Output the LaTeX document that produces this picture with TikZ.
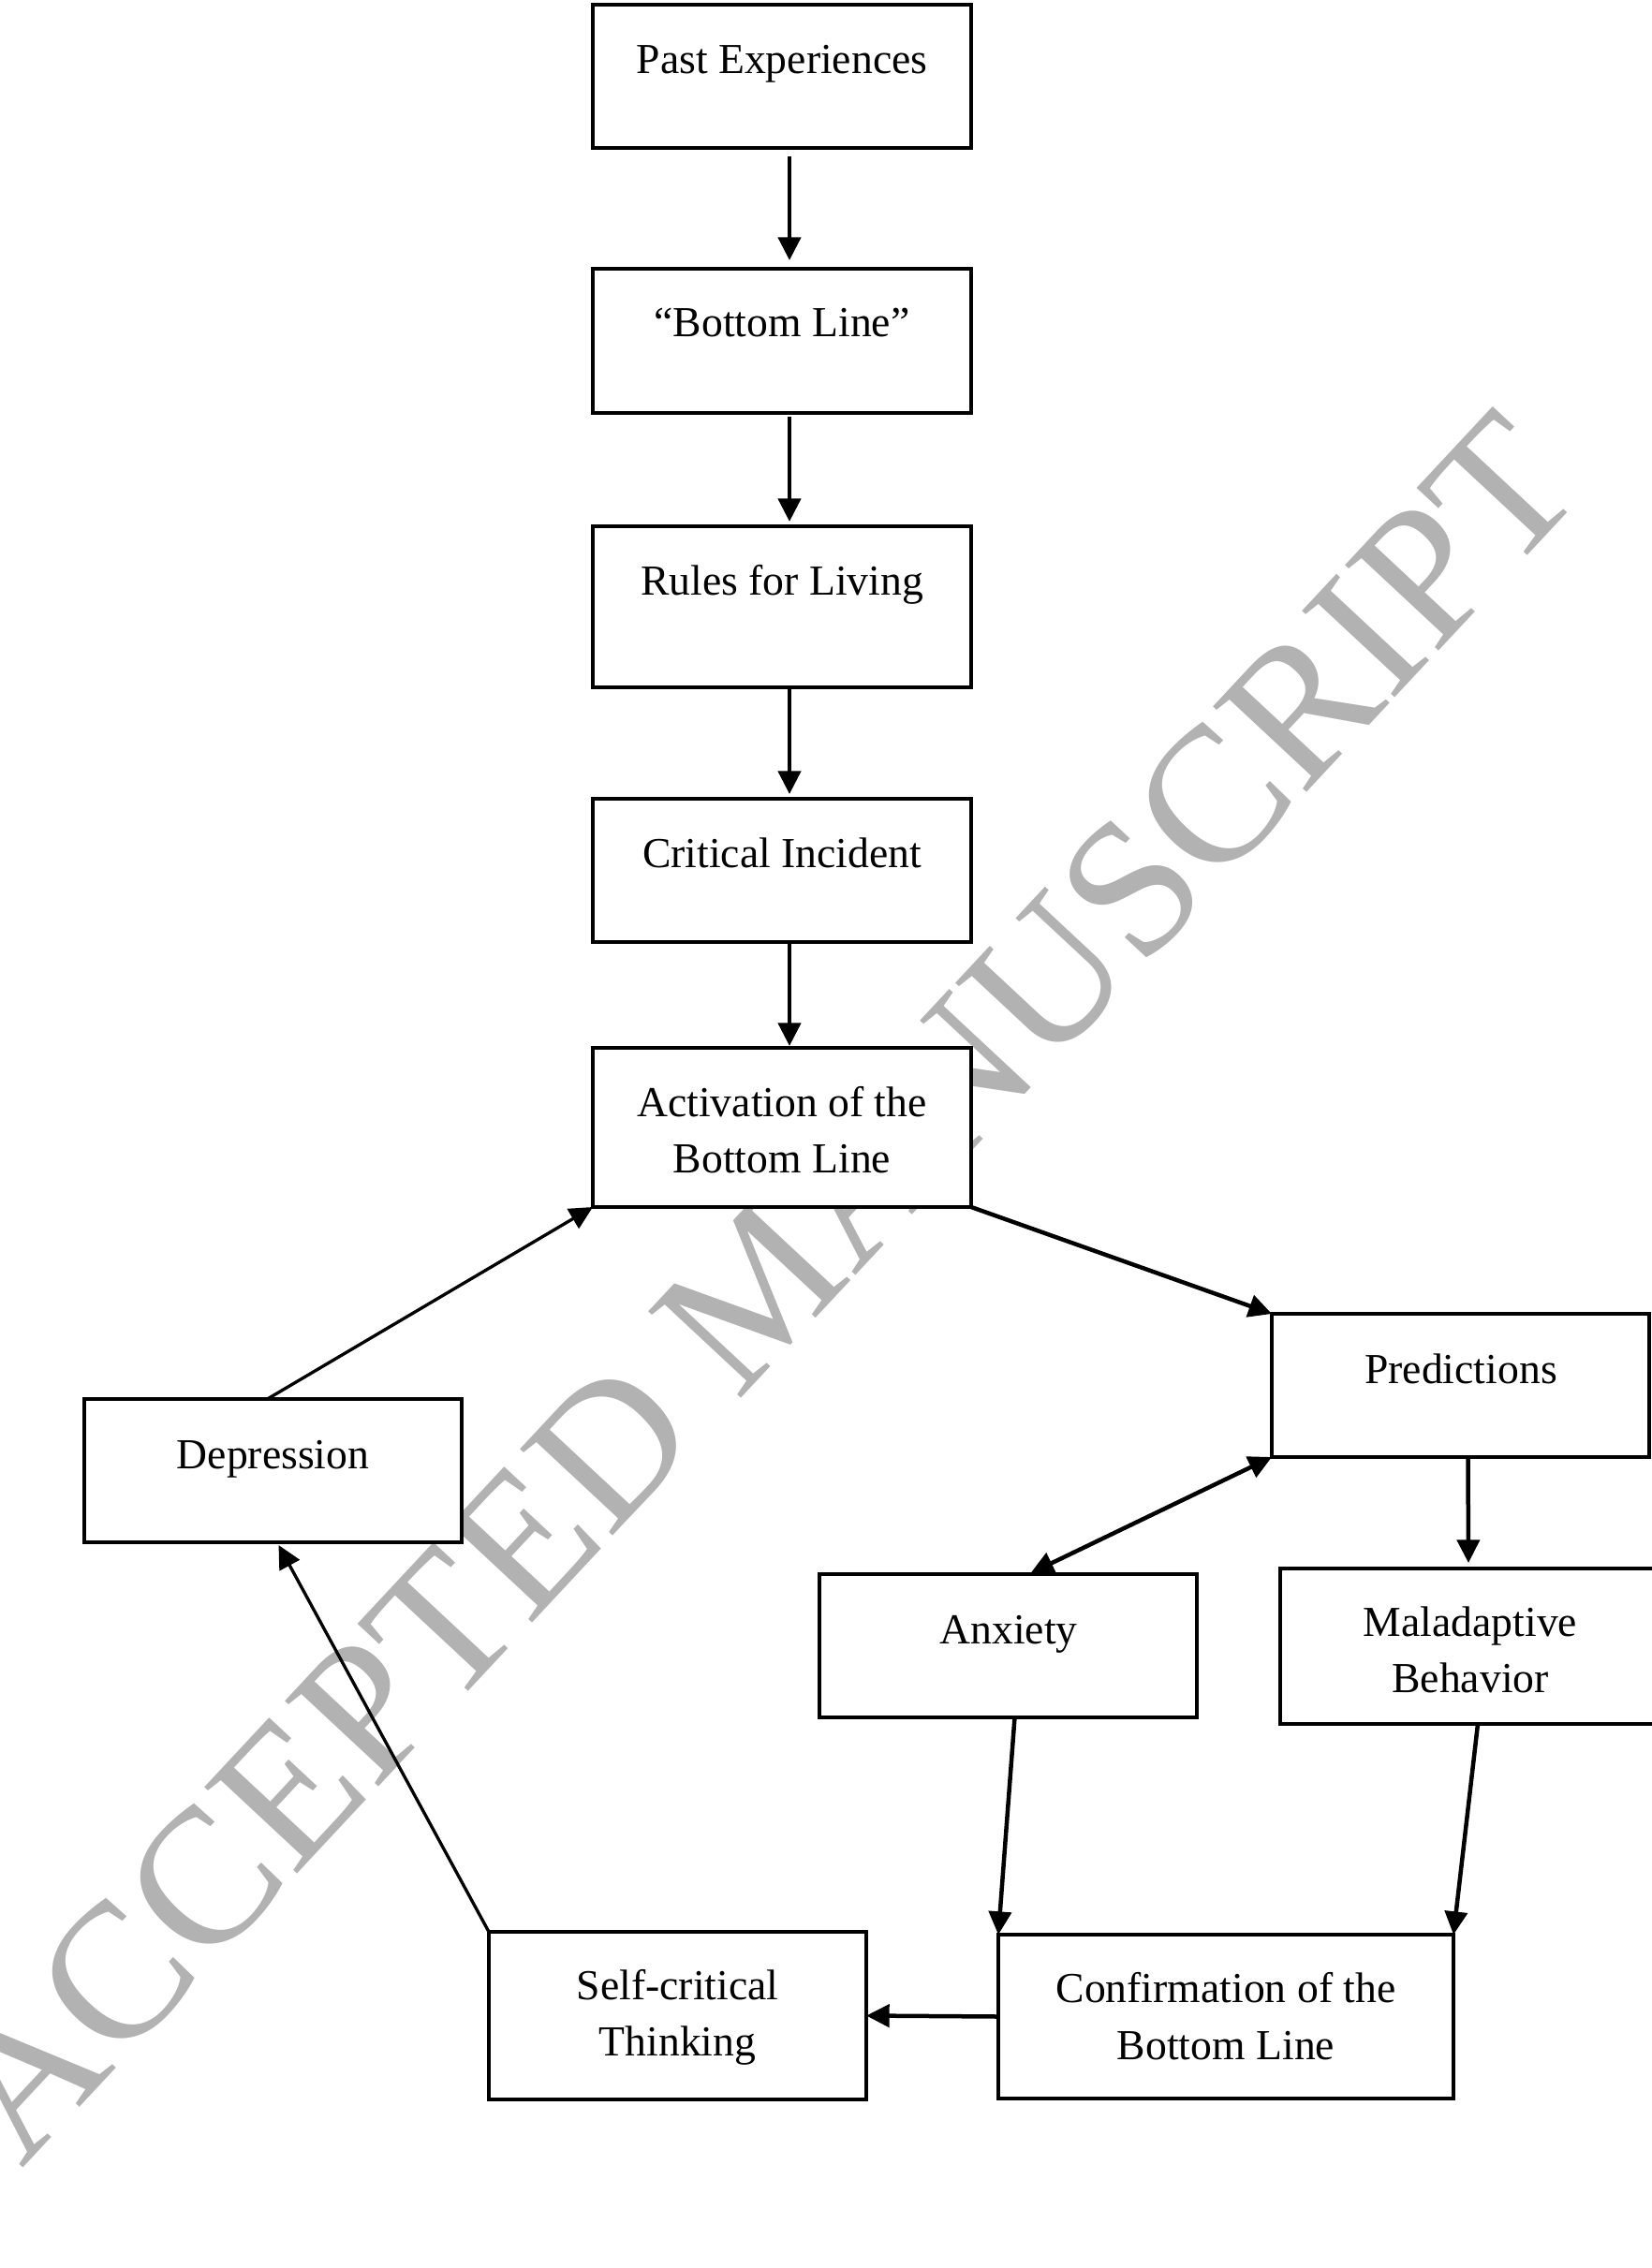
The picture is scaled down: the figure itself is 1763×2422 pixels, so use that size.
\documentclass[tikz,border=0pt]{standalone}
\usepackage{fontspec}
\setmainfont{Liberation Serif}
\usetikzlibrary{arrows.meta,calc}
\begin{document}
\begin{tikzpicture}[x=0.3pt,y=-0.3pt,
  box/.style 2 args={draw=black,fill=white,line width=1.2pt,inner sep=0pt,outer sep=0pt,rectangle,minimum width=#1*0.3pt,minimum height=#2*0.3pt},
  lbl/.style={anchor=base,inner sep=0pt,font=\fontsize{13.7pt}{18pt}\selectfont},
  conn/.style={line width=1.35pt,-{Triangle[length=7.4pt,width=7.2pt]}},
  thinconn/.style={conn,line width=1pt},
  wmark/.style={anchor=base,rotate=47,text=black!30,inner sep=0pt,font=\fontsize{62pt}{62pt}\selectfont}
]
\useasboundingbox (0,0) rectangle (1763,2422);

% watermark (beneath the boxes)
\node[wmark] (wm) at (860,1420) {ACCEPTED MANUSCRIPT};

% boxes
\node[box={404}{153}] (pe)   at (835,81.5) {};
\node[box={404}{154}] (bl)   at (835,364) {};
\node[box={404}{172}] (rl)   at (835,648) {};
\node[box={404}{153}] (ci)   at (835,929.5) {};
\node[box={404}{170}] (act)  at (835,1204) {};
\node[box={403}{153}] (pred) at (1559.5,1479.5) {};
\node[box={403}{153}] (dep)  at (291.5,1570.5) {};
\node[box={403}{153}] (anx)  at (1076.5,1757.5) {};
\node[box={404}{166}] (mal)  at (1569,1758) {};
\node[box={403}{179}] (self) at (723.5,2152.5) {};
\node[box={486}{175}] (conf) at (1309,2153.5) {};

% labels
\node[lbl] (tpe)   at (835,79) {Past Experiences};
\node[lbl] (tbl)   at (835,360) {“Bottom Line”};
\node[lbl] (trl)   at (835,635) {Rules for Living};
\node[lbl] (tci)   at (835,926) {Critical Incident};
\node[lbl] (tact1) at (835,1192) {Activation of the};
\node[lbl] (tact2) at (835,1252) {Bottom Line};
\node[lbl] (tpred) at (1560,1477) {Predictions};
\node[lbl] (tdep)  at (291.5,1568) {Depression};
\node[lbl] (tanx)  at (1077,1755) {Anxiety};
\node[lbl] (tmal1) at (1570,1747) {Maladaptive};
\node[lbl] (tmal2) at (1570,1807) {Behavior};
\node[lbl] (tself1) at (723.5,2135) {Self-critical};
\node[lbl] (tself2) at (723.5,2195) {Thinking};
\node[lbl] (tconf1) at (1309,2138) {Confirmation of the};
\node[lbl] (tconf2) at (1309,2199) {Bottom Line};

% connectors
\draw[conn] ($(pe.south)+(8,9)$) -- ($(bl.north)+(8,-9)$);
\draw[conn] ($(bl.south)+(8,4)$) -- ($(rl.north)+(8,-5)$);
\draw[conn] ($(rl.south)+(8,2)$) -- ($(ci.north)+(8,-5)$);
\draw[conn] ($(ci.south)+(8,2)$) -- ($(act.north)+(8,-2)$);
\draw[conn] (act.south east) -- (pred.north west);
\draw[line width=1.35pt,{Triangle[length=7.4pt,width=7.2pt]}-{Triangle[length=7.4pt,width=7.2pt]}] ($(anx.north)+(24,-1)$) -- (pred.south west);
\draw[conn] ($(pred.south)+(8,0)$) -- ($(mal.north)+(-1,-6)$);
\draw[conn] ($(anx.south)+(7,0)$) -- (conf.north west);
\draw[conn] ($(mal.south)+(9,0)$) -- (conf.north east);
\draw[conn] (conf.west) -- (self.east);
\draw[thinconn] (self.north west) -- ($(dep.south)+(6,3)$);
\draw[thinconn] ($(dep.north)+(-6,0)$) -- (act.south west);
\end{tikzpicture}
\end{document}
